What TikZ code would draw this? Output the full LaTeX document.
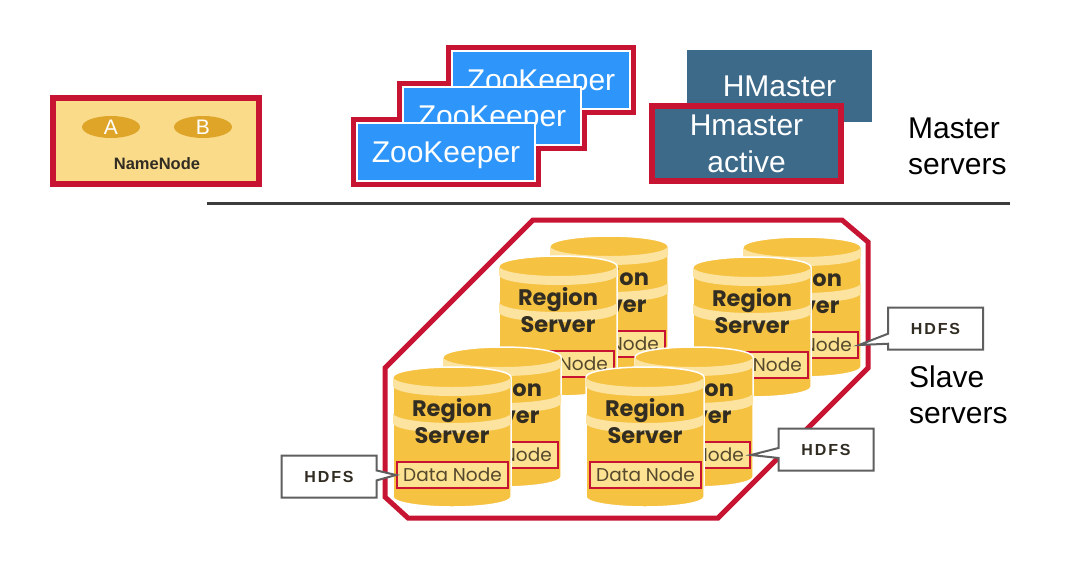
\documentclass[tikz,border=0pt]{standalone}
\usepackage{fontspec}
\setmainfont{Liberation Sans}
\newfontfamily\rsfont{Poppins}
\newfontfamily\hdfsfont[LetterSpace=12]{Liberation Sans}
\usepackage{tikz}
\usetikzlibrary{shapes.geometric,shapes.callouts}
\definecolor{hred}{RGB}{198,20,50}
\definecolor{zkblue}{RGB}{46,150,250}
\definecolor{hmsteel}{RGB}{62,106,138}
\definecolor{nnfill}{RGB}{250,219,138}
\definecolor{nngold}{RGB}{222,165,40}
\definecolor{cylgold}{RGB}{246,194,66}
\definecolor{cyllight}{RGB}{252,228,160}
\definecolor{dnfill}{RGB}{252,226,145}
\definecolor{dntext}{RGB}{85,72,45}
\definecolor{rstext}{RGB}{50,45,35}
\definecolor{divgray}{RGB}{60,60,60}
\definecolor{hdfsgray}{RGB}{95,95,95}
\tikzset{
bigtext/.style={font=\fontsize{30}{36}\selectfont},
namenode/.style={draw=hred, line width=6pt, fill=nnfill, minimum width=206pt, minimum height=86pt},
nnellipse/.style={ellipse, fill=nngold, text=white, inner sep=0pt, minimum width=58pt, minimum height=22pt, font=\fontsize{21}{21}\selectfont},
zkframe/.style={fill=hred, inner sep=0pt, minimum width=190pt, minimum height=70pt},
zkbox/.style={fill=zkblue, draw=white, line width=1.2pt, inner sep=0pt, minimum width=178pt, minimum height=58pt, text=white, text depth=0pt, bigtext},
hmbox/.style={fill=hmsteel, inner sep=0pt, text=white, align=center, font=\fontsize{30}{37}\selectfont},
cylbody/.style={fill=cylgold, draw=white, line width=1.5pt},
cylband/.style={fill=cyllight},
rslabel/.style={align=center, text=rstext, inner sep=0pt, font=\rsfont\bfseries\fontsize{22.5}{27}\selectfont},
dnbox/.style={draw=hred, line width=2pt, fill=dnfill, minimum width=111pt, minimum height=26pt, inner sep=0pt, text=dntext, font=\rsfont\fontsize{18.5}{18.5}\selectfont},
hdfsbox/.style={rectangle callout, draw=hdfsgray, line width=2pt, fill=white, minimum width=95pt, minimum height=42pt, inner sep=0pt, callout pointer width=10pt, text=rstext, font=\hdfsfont\bfseries\fontsize{16}{16}\selectfont},
cluster/.style={draw=hred, line width=5pt, line join=miter},
divider/.style={draw=divgray, line width=3pt}
}
\begin{document}
\begin{tikzpicture}[x=1pt,y=-1pt]
\useasboundingbox[fill=white] (0,0) rectangle (1080,571);
\node[namenode] (nn) at (156,141) {};
\node[nnellipse] (nna) at (111,127) {A};
\node[nnellipse] (nnb) at (203,127) {B};
\node[font=\bfseries\fontsize{16.5}{16.5}\selectfont, text=rstext] (nnlabel) at (157,164) {NameNode};
\node[zkframe] (zkr3) at (541,80) {};
\node[zkframe] (zkr2) at (492,116) {};
\node[zkframe] (zkr1) at (446,152) {};
\node[zkbox] (zk3) at (541,80) {ZooKeeper};
\node[zkbox] (zk2) at (492,116) {ZooKeeper};
\node[zkbox] (zk1) at (446,152) {ZooKeeper};
\node[hmbox, minimum width=185pt, minimum height=72pt, text depth=0pt] (hm2) at (779.5,86) {HMaster};
\node[hmbox, draw=hred, line width=6pt, minimum width=189pt, minimum height=75pt] (hm1) at (746.5,143.5) {Hmaster\\active};
\node[bigtext, anchor=west, align=left, inner sep=0pt] (master) at (908,146) {Master\\servers};
\coordinate (divL) at (207,203);
\coordinate (divR) at (1010,203);
\draw[divider] (divL) -- (divR);
\draw[cluster] (533,220) -- (842,220) -- (868,242) -- (868,368) -- (718,518) -- (408,518) -- (385,497) -- (385,368) -- cycle;
\foreach \cx/\cy/\cn in {550/236/TLb, 499/256/TLf, 743/237/TRb, 693/257/TRf, 443/347/BLb, 393/367/BLf, 635/347/BRb, 586/367/BRf}{
  \begin{scope}[shift={(\cx,\cy)}]
    \path[cylbody] (0,10) -- (0,130) arc[start angle=180, end angle=0, x radius=59, y radius=10] -- (118,10) arc[start angle=0, end angle=-180, x radius=59, y radius=10] -- cycle;
    \path[cylband] (0,10) arc[start angle=180, end angle=0, x radius=59, y radius=10] -- (118,19) arc[start angle=0, end angle=180, x radius=59, y radius=10] -- cycle;
    \path[cylband] (0,46) arc[start angle=180, end angle=0, x radius=59, y radius=10] -- (118,56) arc[start angle=0, end angle=180, x radius=59, y radius=10] -- cycle;
    \node[rslabel] (rs\cn) at (59,54.5) {Region\\Server};
    \node[dnbox] (dn\cn) at (59.5,108) {Data Node};
  \end{scope}
}
\node[hdfsbox, callout absolute pointer={(dnBLf.west)}] (hdfsL) at (329,476.5) {HDFS};
\node[hdfsbox, callout absolute pointer={(dnTRb.east)}] (hdfsTR) at (935.5,328.5) {HDFS};
\node[hdfsbox, callout absolute pointer={(dnBRb.east)}] (hdfsBR) at (826,449.5) {HDFS};
\node[bigtext, anchor=west, align=left, inner sep=0pt] (slave) at (909,395) {Slave\\servers};
\end{tikzpicture}
\end{document}
